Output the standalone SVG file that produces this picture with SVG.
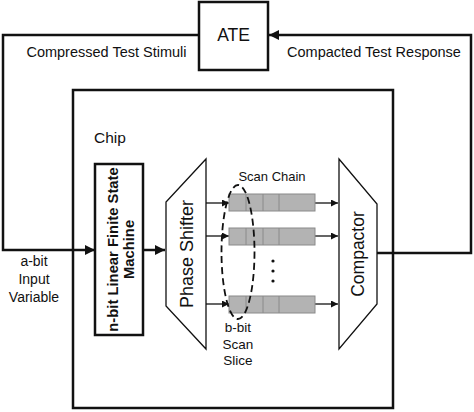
<svg xmlns="http://www.w3.org/2000/svg" width="474" height="412" viewBox="0 0 474 412">
<defs>
<style>
text{font-family:"Liberation Sans",Arial,sans-serif;fill:#111}
.thick{fill:none;stroke:#111;stroke-width:2.5}
.thin{fill:none;stroke:#111;stroke-width:1.3}
.cell{fill:#b3b3b3;stroke:#8a8a8a;stroke-width:1}
</style>
<marker id="ah" viewBox="0 0 10 10" refX="10" refY="5" markerWidth="7" markerHeight="7" markerUnits="userSpaceOnUse" orient="auto"><path d="M0,0L10,5L0,10z" fill="#111"/></marker>
<marker id="ahb" viewBox="0 0 10 10" refX="10" refY="5" markerWidth="10" markerHeight="10" markerUnits="userSpaceOnUse" orient="auto"><path d="M0,0L10,5L0,10z" fill="#111"/></marker>
</defs>
<rect width="474" height="412" fill="#fff"/>
<g id="connectors">
<polyline class="thick" points="199,35 3,35 3,250 95,250" marker-end="url(#ahb)"/>
<polyline class="thick" points="377,253 471,253 471,35 269,35" marker-end="url(#ahb)"/>
<line class="thick" x1="143" y1="250" x2="165" y2="250" marker-end="url(#ahb)"/>
<line class="thin" x1="206" y1="203" x2="229" y2="203" marker-end="url(#ah)"/>
<line class="thin" x1="206" y1="236" x2="229" y2="236" marker-end="url(#ah)"/>
<line class="thin" x1="206" y1="304" x2="229" y2="304" marker-end="url(#ah)"/>
<line class="thin" x1="315" y1="203" x2="338" y2="203" marker-end="url(#ah)"/>
<line class="thin" x1="315" y1="236" x2="338" y2="236" marker-end="url(#ah)"/>
<line class="thin" x1="315" y1="304" x2="338" y2="304" marker-end="url(#ah)"/>
</g>
<g id="ate">
<rect class="thick" x="199" y="2" width="69" height="68"/>
<text x="233.5" y="41" font-size="17.5" text-anchor="middle">ATE</text>
</g>
<text x="106.5" y="57" font-size="14.5" text-anchor="middle">Compressed Test Stimuli</text>
<text x="374" y="57" font-size="14.5" text-anchor="middle">Compacted Test Response</text>
<text x="34" y="266" font-size="14" text-anchor="middle">a-bit</text>
<text x="34" y="284" font-size="14" text-anchor="middle">Input</text>
<text x="34" y="301.5" font-size="14" text-anchor="middle">Variable</text>
<g id="chip">
<rect class="thick" x="73" y="90" width="320" height="318"/>
<text x="94" y="143" font-size="15.5">Chip</text>
</g>
<g id="fsm">
<rect class="thick" x="95" y="164" width="48" height="171"/>
<text transform="translate(119,249.5) rotate(-90)" font-size="14.8" font-weight="bold" text-anchor="middle"><tspan x="0" y="-1.5">n-bit Linear Finite State</tspan><tspan x="0" y="14.5">Machine</tspan></text>
</g>
<g id="phase-shifter">
<polygon class="thin" points="206,159 206,349 166,306 166,202" stroke-width="1.5"/>
<text transform="translate(192.5,254) rotate(-90)" font-size="18" text-anchor="middle">Phase Shifter</text>
</g>
<g id="scan-chains">
<text x="272" y="181" font-size="13" text-anchor="middle">Scan Chain</text>
<g>
<rect class="cell" x="229" y="194" width="86" height="17"/>
<path d="M246,194V211M263,194V211M279,194V211" stroke="#8a8a8a" stroke-width="1"/>
</g>
<g>
<rect class="cell" x="229" y="228" width="86" height="17"/>
<path d="M246,228V245M263,228V245M279,228V245" stroke="#8a8a8a" stroke-width="1"/>
</g>
<g>
<rect class="cell" x="229" y="296" width="86" height="17"/>
<path d="M246,296V313M263,296V313M279,296V313" stroke="#8a8a8a" stroke-width="1"/>
</g>
<circle cx="273" cy="261" r="1.6" fill="#111"/>
<circle cx="273" cy="271" r="1.6" fill="#111"/>
<circle cx="273" cy="281" r="1.6" fill="#111"/>
</g>
<g id="scan-slice">
<ellipse cx="238" cy="252" rx="16.5" ry="67" fill="none" stroke="#111" stroke-width="1.8" stroke-dasharray="7,4"/>
<text x="238" y="332" font-size="13.5" text-anchor="middle">b-bit</text>
<text x="238" y="348.5" font-size="13.5" text-anchor="middle">Scan</text>
<text x="238" y="365" font-size="13.5" text-anchor="middle">Slice</text>
</g>
<g id="compactor">
<polygon class="thin" points="339,159 377,204 377,304 339,349" stroke-width="1.5"/>
<text transform="translate(363.5,254) rotate(-90)" font-size="17.5" text-anchor="middle">Compactor</text>
</g>
</svg>
